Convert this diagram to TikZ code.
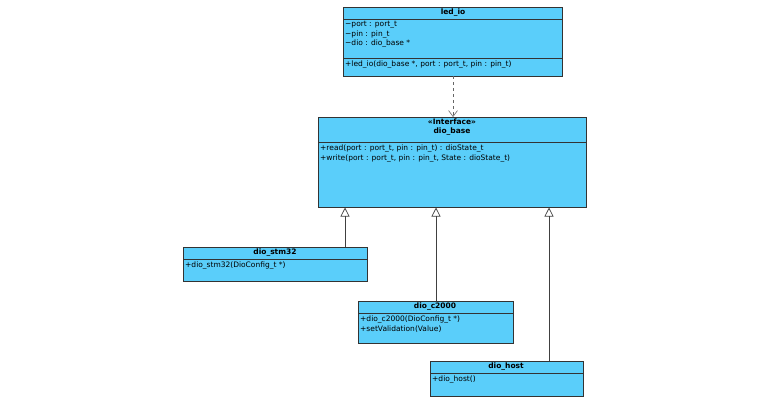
\documentclass[tikz,border=0pt]{standalone}
\usepackage{fontspec}
\setmainfont{DejaVu Sans}
\usetikzlibrary{arrows.meta}
\definecolor{umlblue}{RGB}{90,206,250}
\begin{document}
\begin{tikzpicture}[x=1pt,y=-1pt,
  box/.style={draw=black!80,fill=umlblue,line width=0.8pt},
  sep/.style={draw=black!80,line width=0.6pt},
  title/.style={font=\fontsize{7.5}{9}\selectfont\bfseries,anchor=north,inner sep=0pt},
  txt/.style={font=\fontsize{7.5}{9.6}\selectfont,anchor=north west,inner sep=0pt,align=left},
  inherit/.style={draw=black!75,line width=0.7pt,-{Triangle[open,length=9pt,width=9pt]}},
  dep/.style={draw=black!60,dashed,line width=0.6pt,-{Straight Barb[length=6pt,width=9pt]}}]
\useasboundingbox (0,0) rectangle (770,400);
% led_io
\path[box] (343,7) rectangle (562,76);
\coordinate (ledB) at (453,76);
\draw[sep] (343,19) -- (562,19);
\draw[sep] (343,58) -- (562,58);
\node[title] (ledT) at (453,8.5) {led\_io};
\node[txt] (ledA) at (345,21) {−port : port\_t\\−pin : pin\_t\\−dio : dio\_base *};
\node[txt] (ledM) at (345,61) {+led\_io(dio\_base *, port : port\_t, pin : pin\_t)};
% dio_base
\path[box] (318,117) rectangle (586,207);
\coordinate (baseT) at (453,117);
\draw[sep] (318,142) -- (586,142);
\node[title,font=\fontsize{7.5}{9}\selectfont\bfseries,align=center] (baseN) at (452,118.5) {<<Interface>>\\dio\_base};
\node[txt] (baseM) at (320,145) {+read(port : port\_t, pin : pin\_t) : dioState\_t\\+write(port : port\_t, pin : pin\_t, State : dioState\_t)};
\draw[dep] (ledB) -- (baseT);
% dio_stm32
\path[box] (183,247) rectangle (367,281);
\draw[sep] (183,259) -- (367,259);
\node[title] (stmT) at (275,248.5) {dio\_stm32};
\node[txt] (stmM) at (185,262) {+dio\_stm32(DioConfig\_t *)};
% dio_c2000
\path[box] (358,301) rectangle (513,343);
\draw[sep] (358,313) -- (513,313);
\node[title] (c2T) at (435,302.5) {dio\_c2000};
\node[txt] (c2M) at (360,316) {+dio\_c2000(DioConfig\_t *)\\+setValidation(Value)};
% dio_host
\path[box] (430,361) rectangle (583,396);
\draw[sep] (430,373) -- (583,373);
\node[title] (hostT) at (506,362.5) {dio\_host};
\node[txt] (hostM) at (432,376) {+dio\_host()};
% inheritance
\coordinate (s1) at (345,247); \coordinate (t1) at (345,207.5);
\coordinate (s2) at (436,301); \coordinate (t2) at (436,207.5);
\coordinate (s3) at (549,361); \coordinate (t3) at (549,207.5);
\draw[inherit] (s1) -- (t1);
\draw[inherit] (s2) -- (t2);
\draw[inherit] (s3) -- (t3);
\end{tikzpicture}
\end{document}
